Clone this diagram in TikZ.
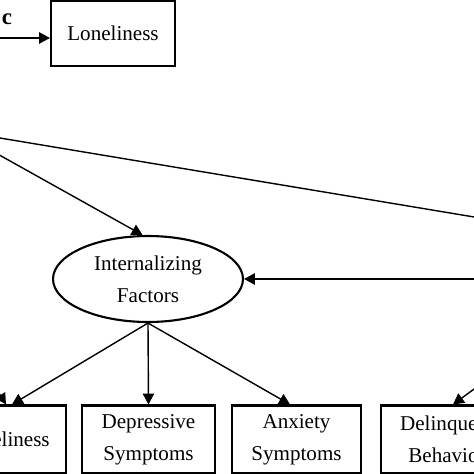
\documentclass[tikz,border=0pt]{standalone}
\usepackage{fontspec}
\setmainfont{Liberation Serif}
\usetikzlibrary{positioning,calc,shapes.geometric,arrows.meta}

\begin{document}
\begin{tikzpicture}[x=0.02cm,y=-0.02cm,
  font=\fontsize{12}{18}\selectfont,
  var/.style={draw,line width=1.2pt,align=center,minimum height=1.3cm,inner sep=0pt},
  lat/.style={draw,ellipse,line width=1.2pt,align=center,minimum width=3.8cm,minimum height=1.72cm,inner sep=0pt},
  path/.style={line width=0.8pt,-{Triangle[length=6.2pt,width=6.5pt]}},
  link/.style={line width=0.8pt}]

\useasboundingbox (0,0) rectangle (474,474);
\clip (0,0) rectangle (474,474);

\node[font=\fontsize{13}{18}\selectfont\bfseries] (demo) at (7,19) {c};
\node[var,minimum width=2.48cm] (lone) at (113,33.5) {Loneliness};

\node[lat] (intern) at (148,279) {Internalizing\\Factors};

\node[var,minimum width=2.48cm,minimum height=1.36cm] (lone2) at (4,439.5) {Loneliness};
\node[var,minimum width=2.66cm,minimum height=1.36cm] (dep) at (148.5,439.5) {Depressive\\Symptoms};
\node[var,minimum width=2.58cm,minimum height=1.36cm] (anx) at (296.5,439.5) {Anxiety\\Symptoms};
\node[var,minimum width=2.64cm,minimum height=1.36cm] (del) at (447,439.5) {Delinquent\\Behavior};

\coordinate (in1) at (-30,38);
\coordinate (in2) at (-20,134.7);
\coordinate (out2) at (500,221.3);
\coordinate (in3) at (-20,144.2);
\coordinate (in4) at (500,279);
\coordinate (in5) at (490,377.4);
\coordinate (in6) at (-18,366);

\draw[path] (in1) -- (in1 -| lone.west);
\draw[link] (in2) -- (out2);
\draw[path] (in3) -- (intern.97);
\draw[path] (in4) -- (intern.east);

\draw[path] (intern.south) -- ([xshift=0.16cm]lone2.north);
\draw[path] (intern.south) -- (dep.north);
\draw[path] (intern.south) -- ([xshift=-0.13cm]anx.north);
\draw[path] (in5) -- ([xshift=0.12cm]del.north);
\draw[path] (in6) -- ([xshift=0.04cm]lone2.north);

\end{tikzpicture}
\end{document}
